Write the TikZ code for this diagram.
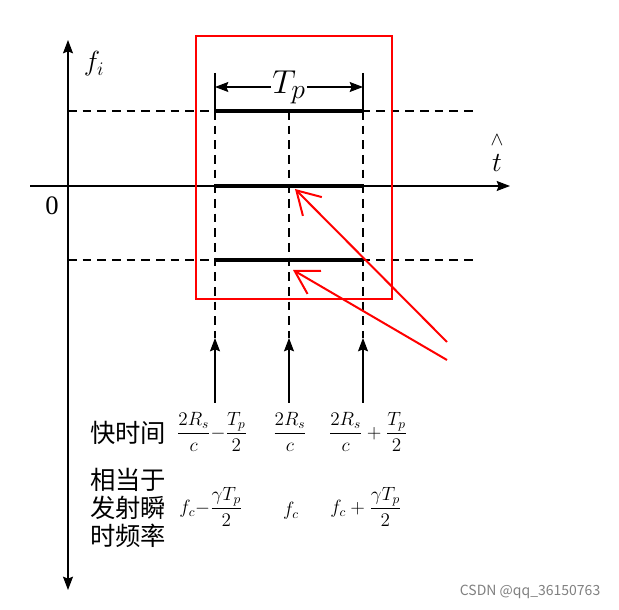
\documentclass[tikz,border=0pt]{standalone}
\usepackage{fontspec}
\setmainfont{Liberation Serif}
\newfontfamily\cjk{Noto Sans CJK SC}
\usepackage{amsmath}
\usetikzlibrary{calc,arrows.meta}

\begin{document}
\begin{tikzpicture}[
		x=0.75pt, y=-0.75pt,		% Pixelraster des Bildes
		>={Stealth[length=10pt,width=7.5pt,inset=1.5pt]},	% Standardpfeilspitzen
		achse/.style={line width=1pt},
		strich/.style={line width=1pt, dash pattern=on 6.5pt off 4.5pt},
		puls/.style={line width=2.4pt},
		rot/.style={draw=red, line width=1.7pt},
		rotpfeil/.style={red, line width=1.5pt, -{Straight Barb[length=17pt,width=20pt]}},
		formel/.style={font=\fontsize{14.4}{16}\selectfont},
		hanzi/.style={font=\cjk\fontsize{19}{21}\selectfont, align=center}
	]
	\useasboundingbox (0,0) rectangle (619,610);

	% Punkte
	\coordinate (foben) at (68,40);
	\coordinate (funten) at (68,590);
	\coordinate (tlinks) at (30,186);
	\coordinate (trechts) at (510,186);
	\coordinate (ol) at (215,111);
	\coordinate (om) at (289,111);
	\coordinate (or) at (363,111);
	\coordinate (ml) at (215,186);
	\coordinate (mr) at (363,186);
	\coordinate (ul) at (215,260);
	\coordinate (ur) at (363,260);
	\coordinate (el) at (215,338);
	\coordinate (em) at (289,338);
	\coordinate (er) at (363,338);
	\coordinate (al) at (215,403);
	\coordinate (am) at (289,403);
	\coordinate (ar) at (363,403);
	\coordinate (tpl) at (215,73);
	\coordinate (tpr) at (363,73);

	% Achsen
	\draw[achse, <->] (funten) -- (foben);
	\draw[achse, ->] (tlinks) -- (trechts);
	\node[font=\fontsize{22}{24}\selectfont] (fi) at (94,64) {$f_i$};
	\node[font=\fontsize{20}{22}\selectfont] (null) at (52,206) {0};
	\node[font=\fontsize{20.74}{22}\selectfont, inner sep=0pt] (that) at (497,152) {$\overset{\raisebox{3pt}{$\scriptstyle\wedge$}}{t}$};

	% gestrichelte Linien
	\draw[strich] (68,111) -- (473,111);
	\draw[strich] (68,260) -- (473,260);
	\draw[strich] (ol) -- (el);
	\draw[strich] (om) -- (em);
	\draw[strich] (or) -- (er);

	% Pulse
	\draw[puls] (ol) -- (or);
	\draw[puls] (ml) -- (mr);
	\draw[puls] (ul) -- (ur);

	% Pulsdauer
	\draw[achse] (tpl) -- (ol);
	\draw[achse] (tpr) -- (or);
	\draw[achse, <->] ($(tpl)+(0,14)$) -- node[fill=white, inner sep=1pt, font=\fontsize{24.88}{26}\selectfont]{$T_p$} ($(tpr)+(0,14)$);

	% roter Rahmen und Pfeile
	\draw[rot] (196,36) rectangle (392,299);
	\coordinate (r1) at (447,342);
	\coordinate (r2) at (447,360);
	\draw[rotpfeil] (r1) -- (295,189);
	\draw[rotpfeil] (r2) -- (293,270);

	% Zeitpfeile
	\draw[achse, ->] (al) -- (el);
	\draw[achse, ->] (am) -- (em);
	\draw[achse, ->] (ar) -- (er);

	% Beschriftung
	\node[hanzi] (schnell) at (128,433) {快时间};
	\node[formel] (z1) at (212,432) {$\dfrac{2R_s}{c}{-}\dfrac{T_p}{2}$};
	\node[formel] (z2) at (290,432) {$\dfrac{2R_s}{c}$};
	\node[formel] (z3) at (368,432) {$\dfrac{2R_s}{c}+\dfrac{T_p}{2}$};
	\node[hanzi] (sende) at (128,508) {相当于\\发射瞬\\时频率};
	\node[formel] (f1) at (211,507) {$f_c{-}\dfrac{\gamma T_p}{2}$};
	\node[formel] (f2) at (291,511) {$f_c$};
	\node[formel] (f3) at (366,507) {$f_c+\dfrac{\gamma T_p}{2}$};

	\node[text=gray, font=\cjk\fontsize{10.5}{12}\selectfont, anchor=east] (csdn) at (605,592) {CSDN @qq\_36150763};
\end{tikzpicture}
\end{document}
